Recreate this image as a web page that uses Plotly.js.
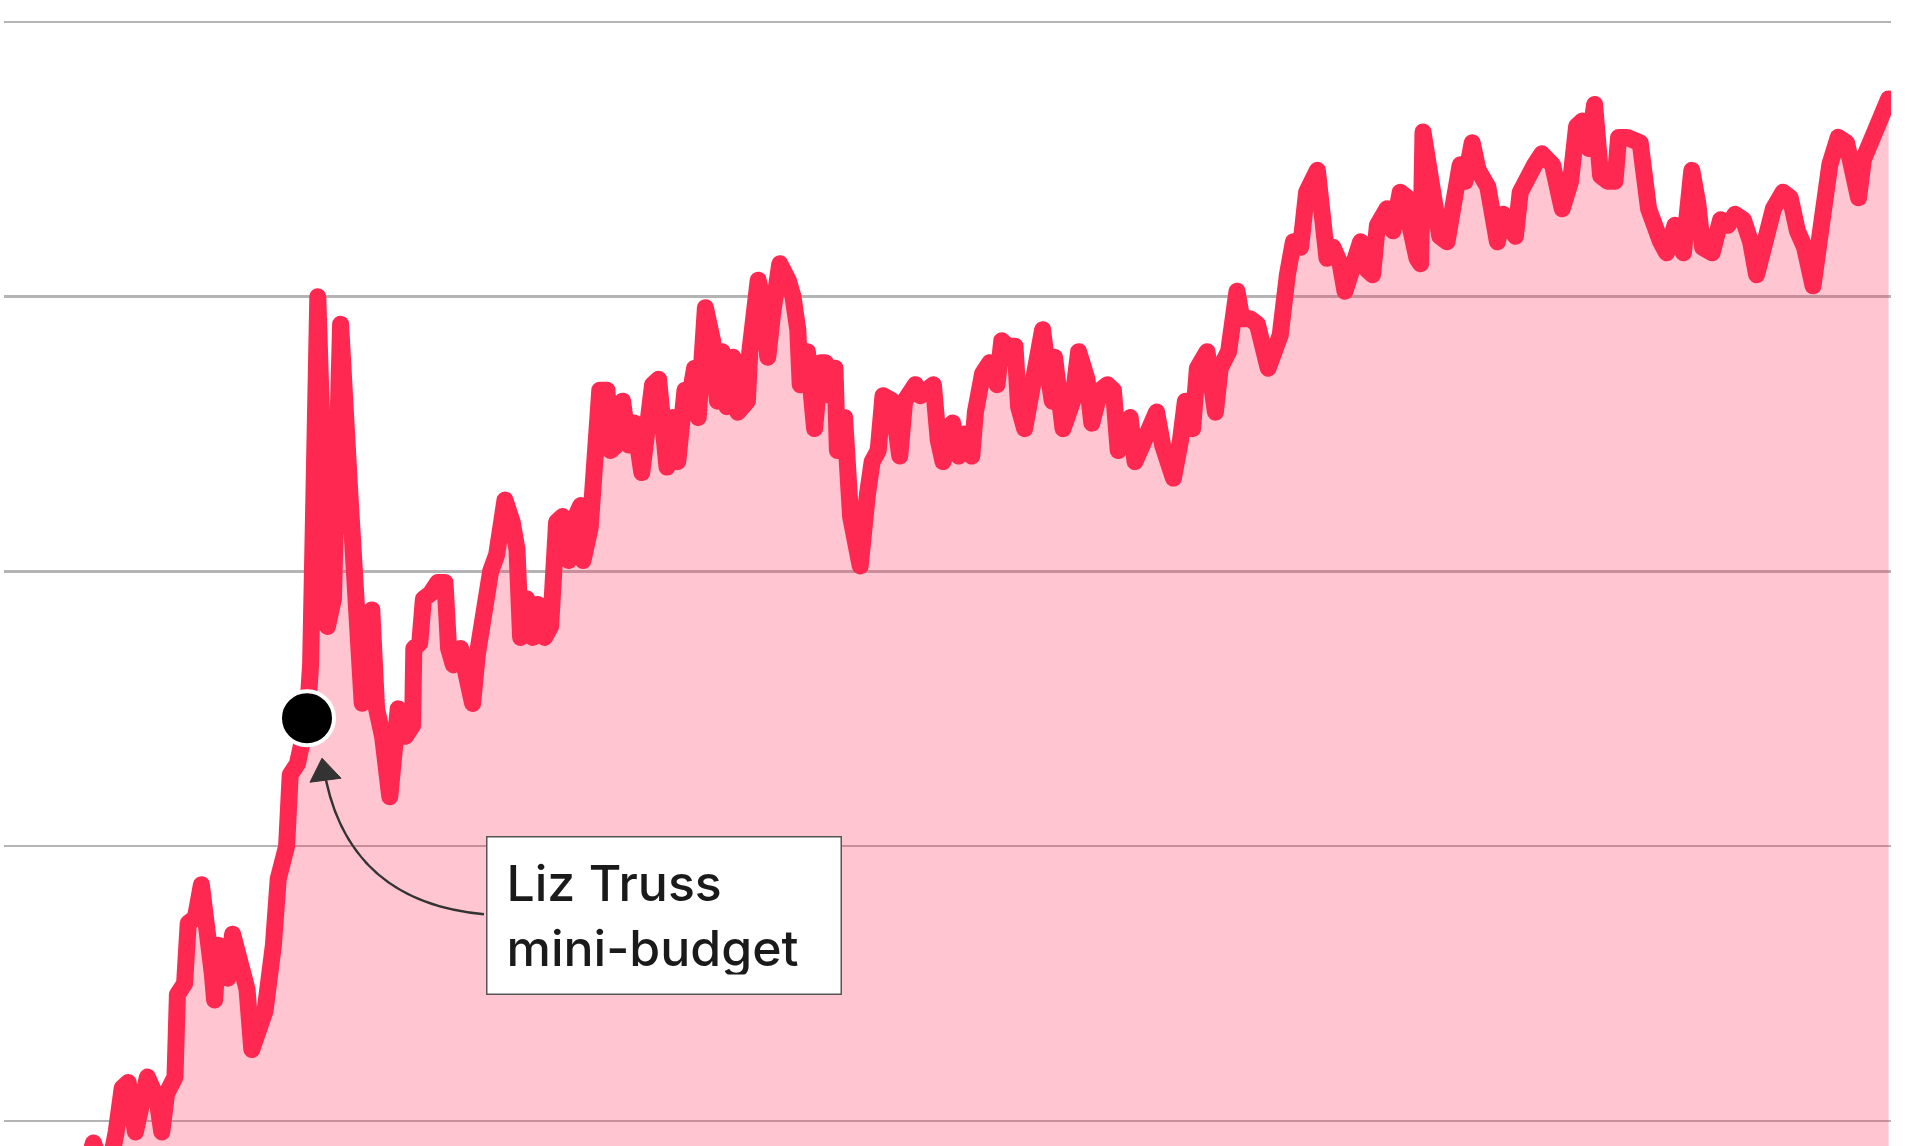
<!DOCTYPE html>
<html>
<head>
<meta charset="utf-8">
<script src="https://cdn.plot.ly/plotly-3.0.1.min.js"></script>
<style>
  html, body { margin: 0; padding: 0; background: #ffffff; }
  #chart { width: 1908px; height: 1146px; }
  .scatterlayer .js-line { stroke-linejoin: round; stroke-linecap: round; }
</style>
</head>
<body>
<div id="chart"></div>
<script>
// ---- data ----
const dates2022 = ['2022-01-14','2022-02-04','2022-02-25','2022-03-14','2022-03-23','2022-03-29','2022-04-03','2022-04-10','2022-04-17','2022-04-22',
  '2022-04-27','2022-05-03','2022-05-07','2022-05-13','2022-05-21','2022-05-25','2022-05-29','2022-06-05','2022-06-07','2022-06-13',
  '2022-06-16','2022-06-22','2022-06-27','2022-07-02','2022-07-06','2022-07-08','2022-07-11','2022-07-15','2022-07-19','2022-07-23',
  '2022-07-29','2022-08-04','2022-08-08','2022-08-13','2022-08-19','2022-08-26','2022-08-30','2022-09-06','2022-09-09','2022-09-15',
  '2022-09-17','2022-09-23','2022-09-26','2022-09-28','2022-10-02','2022-10-06','2022-10-10','2022-10-15','2022-10-21','2022-10-29',
  '2022-11-04','2022-11-08','2022-11-10','2022-11-16','2022-11-20','2022-11-25','2022-12-01','2022-12-08','2022-12-14','2022-12-20',
  '2022-12-21','2022-12-26','2022-12-29'];
const yield2022 = [3.17,3.24,3.28,3.35,3.41,3.46,3.43,3.40,3.48,3.56,
  3.57,3.48,3.52,3.58,3.54,3.48,3.55,3.58,3.73,3.75,
  3.86,3.87,3.93,3.86,3.77,3.72,3.82,3.81,3.76,3.84,
  3.79,3.74,3.63,3.66,3.70,3.82,3.94,4.00,4.13,4.15,
  4.17,4.23,4.33,4.51,5.00,4.72,4.40,4.45,4.95,4.63,
  4.43,4.26,4.39,4.43,4.25,4.20,4.09,4.25,4.20,4.22,
  4.36,4.37,4.45];

const dates2023 = ['2023-01-04','2023-01-10','2023-01-16','2023-01-19','2023-01-23','2023-01-29','2023-02-02','2023-02-08','2023-02-12','2023-02-16',
  '2023-02-23','2023-02-28','2023-03-07','2023-03-13','2023-03-17','2023-03-20','2023-03-25','2023-03-30','2023-04-03','2023-04-09',
  '2023-04-14','2023-04-19','2023-04-24','2023-04-29','2023-05-03','2023-05-09','2023-05-11','2023-05-17','2023-05-19','2023-05-25',
  '2023-05-31','2023-06-03','2023-06-08','2023-06-13','2023-06-18','2023-06-23','2023-06-29','2023-07-03','2023-07-08','2023-07-13',
  '2023-07-16','2023-07-20','2023-07-25','2023-07-29','2023-08-04','2023-08-08','2023-08-12','2023-08-15','2023-08-21','2023-08-27',
  '2023-08-31','2023-09-04','2023-09-08','2023-09-13','2023-09-17','2023-09-25','2023-09-27','2023-10-04','2023-10-08','2023-10-12',
  '2023-10-16','2023-10-22','2023-10-29','2023-11-02','2023-11-06','2023-11-08','2023-11-14','2023-11-20','2023-11-25','2023-11-29',
  '2023-12-03','2023-12-07','2023-12-09','2023-12-15','2023-12-20','2023-12-28'];
const yield2023 = [4.46,4.48,4.48,4.36,4.33,4.36,4.30,4.26,4.35,4.43,
  4.50,4.53,4.63,4.59,4.54,4.38,4.45,4.38,4.44,4.38,
  4.40,4.59,4.60,4.52,4.59,4.62,4.52,4.58,4.63,4.83,
  4.83,4.72,4.73,4.81,4.73,4.77,4.68,4.75,4.84,4.85,
  4.78,4.69,4.78,4.70,4.83,4.82,4.87,4.78,4.98,4.92,
  4.81,4.90,4.80,4.89,4.79,4.81,4.90,5.03,4.99,4.89,
  4.97,5.06,5.03,5.00,4.94,4.84,4.90,4.76,4.88,4.88,
  4.82,4.87,4.72,4.78,4.60,4.51];

const dates2024 = ['2024-01-03','2024-01-07','2024-01-12','2024-01-16','2024-01-24','2024-01-30','2024-02-03','2024-02-12','2024-02-16','2024-02-22',
  '2024-02-27','2024-03-02','2024-03-06','2024-03-14','2024-03-19','2024-03-24','2024-03-30','2024-04-02','2024-04-08','2024-04-14',
  '2024-04-20','2024-04-24','2024-04-29','2024-05-05','2024-05-08','2024-05-13','2024-05-19','2024-05-28','2024-06-01','2024-06-05',
  '2024-06-07','2024-06-12','2024-06-14','2024-06-22','2024-06-27','2024-07-04','2024-07-08','2024-07-15','2024-07-21','2024-07-26',
  '2024-07-30','2024-08-03','2024-08-09','2024-08-13','2024-08-20','2024-08-26','2024-08-31','2024-09-05','2024-09-14','2024-09-20',
  '2024-09-24','2024-09-30','2024-10-04','2024-10-12','2024-10-19','2024-10-23','2024-10-30','2024-11-06','2024-11-10','2024-11-17',
  '2024-11-23','2024-12-02','2024-12-12','2024-12-18','2024-12-23','2024-12-29'];
const yield2024 = [4.64,4.70,4.72,4.82,4.81,4.71,4.81,4.84,4.82,4.83,
  4.84,4.74,4.70,4.77,4.71,4.75,4.71,4.79,4.86,4.88,
  4.84,4.92,4.91,4.91,4.80,4.76,4.85,4.94,4.87,4.81,
  4.89,4.82,4.76,4.81,4.90,4.85,4.77,4.83,4.84,4.83,
  4.72,4.76,4.78,4.70,4.74,4.78,4.79,4.73,4.67,4.74,
  4.81,4.76,4.87,4.90,4.79,4.87,4.90,5.01,4.96,4.96,
  4.95,4.87,4.93,5.04,5.10,5.09];

const dates2025 = ['2025-01-03','2025-01-12','2025-01-17','2025-01-20','2025-01-25','2025-01-31','2025-02-04','2025-02-11','2025-02-17','2025-02-22',
  '2025-02-27','2025-03-03','2025-03-11','2025-03-16','2025-03-22','2025-03-28','2025-03-30','2025-04-05','2025-04-08','2025-04-10',
  '2025-04-16','2025-04-20','2025-04-24','2025-04-30','2025-05-07','2025-05-11','2025-05-15','2025-05-21','2025-05-26','2025-06-03',
  '2025-06-07','2025-06-11','2025-06-16','2025-06-22','2025-06-26','2025-06-30','2025-07-06','2025-07-12','2025-07-18','2025-07-27',
  '2025-08-04','2025-08-11','2025-08-16','2025-08-21','2025-08-26','2025-08-31','2025-09-05','2025-09-11','2025-09-17','2025-09-20',
  '2025-09-27','2025-10-04','2025-10-08','2025-10-15','2025-10-19','2025-10-25','2025-10-30','2025-11-06','2025-11-13','2025-11-20',
  '2025-11-25','2025-11-29','2025-12-07','2025-12-14','2025-12-20','2025-12-26'];
const yield2025 = [5.19,5.23,5.12,5.07,5.09,5.06,5.01,5.07,5.10,5.05,
  5.04,5.13,5.16,5.12,5.19,5.18,5.13,5.07,5.06,5.30,
  5.20,5.19,5.11,5.10,5.19,5.24,5.21,5.28,5.23,5.20,
  5.15,5.10,5.15,5.13,5.11,5.19,5.22,5.24,5.26,5.24,
  5.16,5.21,5.31,5.32,5.27,5.35,5.22,5.21,5.21,5.29,
  5.29,5.28,5.28,5.16,5.13,5.10,5.08,5.13,5.08,5.23,
  5.17,5.09,5.08,5.14,5.13,5.15];

const dates2026 = ['2026-01-02','2026-01-08','2026-01-13','2026-01-20','2026-01-27','2026-02-04','2026-02-10','2026-02-16','2026-02-22','2026-03-01',
  '2026-03-05','2026-03-11','2026-03-15','2026-03-22','2026-03-29','2026-04-03','2026-04-08','2026-04-12','2026-04-20','2026-04-26','2026-05-03'];
const yield2026 = [5.14,5.10,5.04,5.12,5.16,5.19,5.18,5.12,5.09,5.02,
  5.10,5.18,5.24,5.29,5.28,5.23,5.18,5.25,5.30,5.33,5.36];

const eventDate = '2022-09-23';
const eventValue = 4.233;
const eventLabel = 'Liz Truss<br>mini-budget';

const gridValues = [3.5, 4.0, 4.5, 5.0, 5.5];

// ---- build ----
const allDates = [].concat(dates2022, dates2023, dates2024, dates2025, dates2026);
const allYields = [].concat(yield2022, yield2023, yield2024, yield2025, yield2026);

const lineTrace = {
  type: 'scatter',
  mode: 'lines',
  x: allDates,
  y: allYields,
  line: { color: '#ff2850', width: 17, shape: 'linear' },
  fill: 'tozeroy',
  fillcolor: 'rgba(255,40,80,0.27)',
  hoverinfo: 'skip'
};

const eventTrace = {
  type: 'scatter',
  mode: 'markers',
  x: [eventDate],
  y: [eventValue],
  marker: { color: '#000000', size: 54, line: { color: '#ffffff', width: 4 } },
  hoverinfo: 'skip'
};

const layout = {
  width: 1908,
  height: 1146,
  margin: { l: 4, r: 17, t: 0, b: 0, pad: 0 },
  paper_bgcolor: '#ffffff',
  plot_bgcolor: '#ffffff',
  showlegend: false,
  hovermode: false,
  xaxis: {
    type: 'date',
    range: ['2022-01-13 12:00', '2026-05-05'],
    showgrid: false, zeroline: false, showline: false,
    showticklabels: false, ticks: '', fixedrange: true
  },
  yaxis: {
    range: [3.4545, 5.5400],
    tickmode: 'array',
    tickvals: gridValues,
    showgrid: true, gridcolor: '#b4b4b4', gridwidth: 2.5,
    zeroline: false, showline: false,
    showticklabels: false, ticks: '', fixedrange: true
  },
  annotations: [{
    x: eventDate, y: eventValue, xref: 'x', yref: 'y',
    text: eventLabel,
    showarrow: false,
    xanchor: 'left', yanchor: 'top',
    xshift: 179, yshift: -118,
    align: 'left', valign: 'middle',
    width: 315, height: 118,
    bgcolor: '#ffffff',
    bordercolor: '#555555', borderwidth: 1.5, borderpad: 19,
    font: { family: 'Inter, "Noto Sans", sans-serif', size: 50, weight: 500, color: '#1a1a1a' }
  }],
  shapes: [
    {
      type: 'path', xref: 'x', yref: 'y',
      xsizemode: 'pixel', ysizemode: 'pixel',
      xanchor: eventDate, yanchor: eventValue,
      path: 'M 177 -196 C 110 -190 40 -160 19 -62',
      line: { color: '#333333', width: 2.5 }
    },
    {
      type: 'path', xref: 'x', yref: 'y',
      xsizemode: 'pixel', ysizemode: 'pixel',
      xanchor: eventDate, yanchor: eventValue,
      path: 'M 15 -40 L 3 -64 L 34 -60 Z',
      fillcolor: '#333333',
      line: { color: '#333333', width: 1 }
    }
  ]
};

Plotly.newPlot('chart', [lineTrace, eventTrace], layout, { displayModeBar: false, staticPlot: true });
</script>
</body>
</html>
